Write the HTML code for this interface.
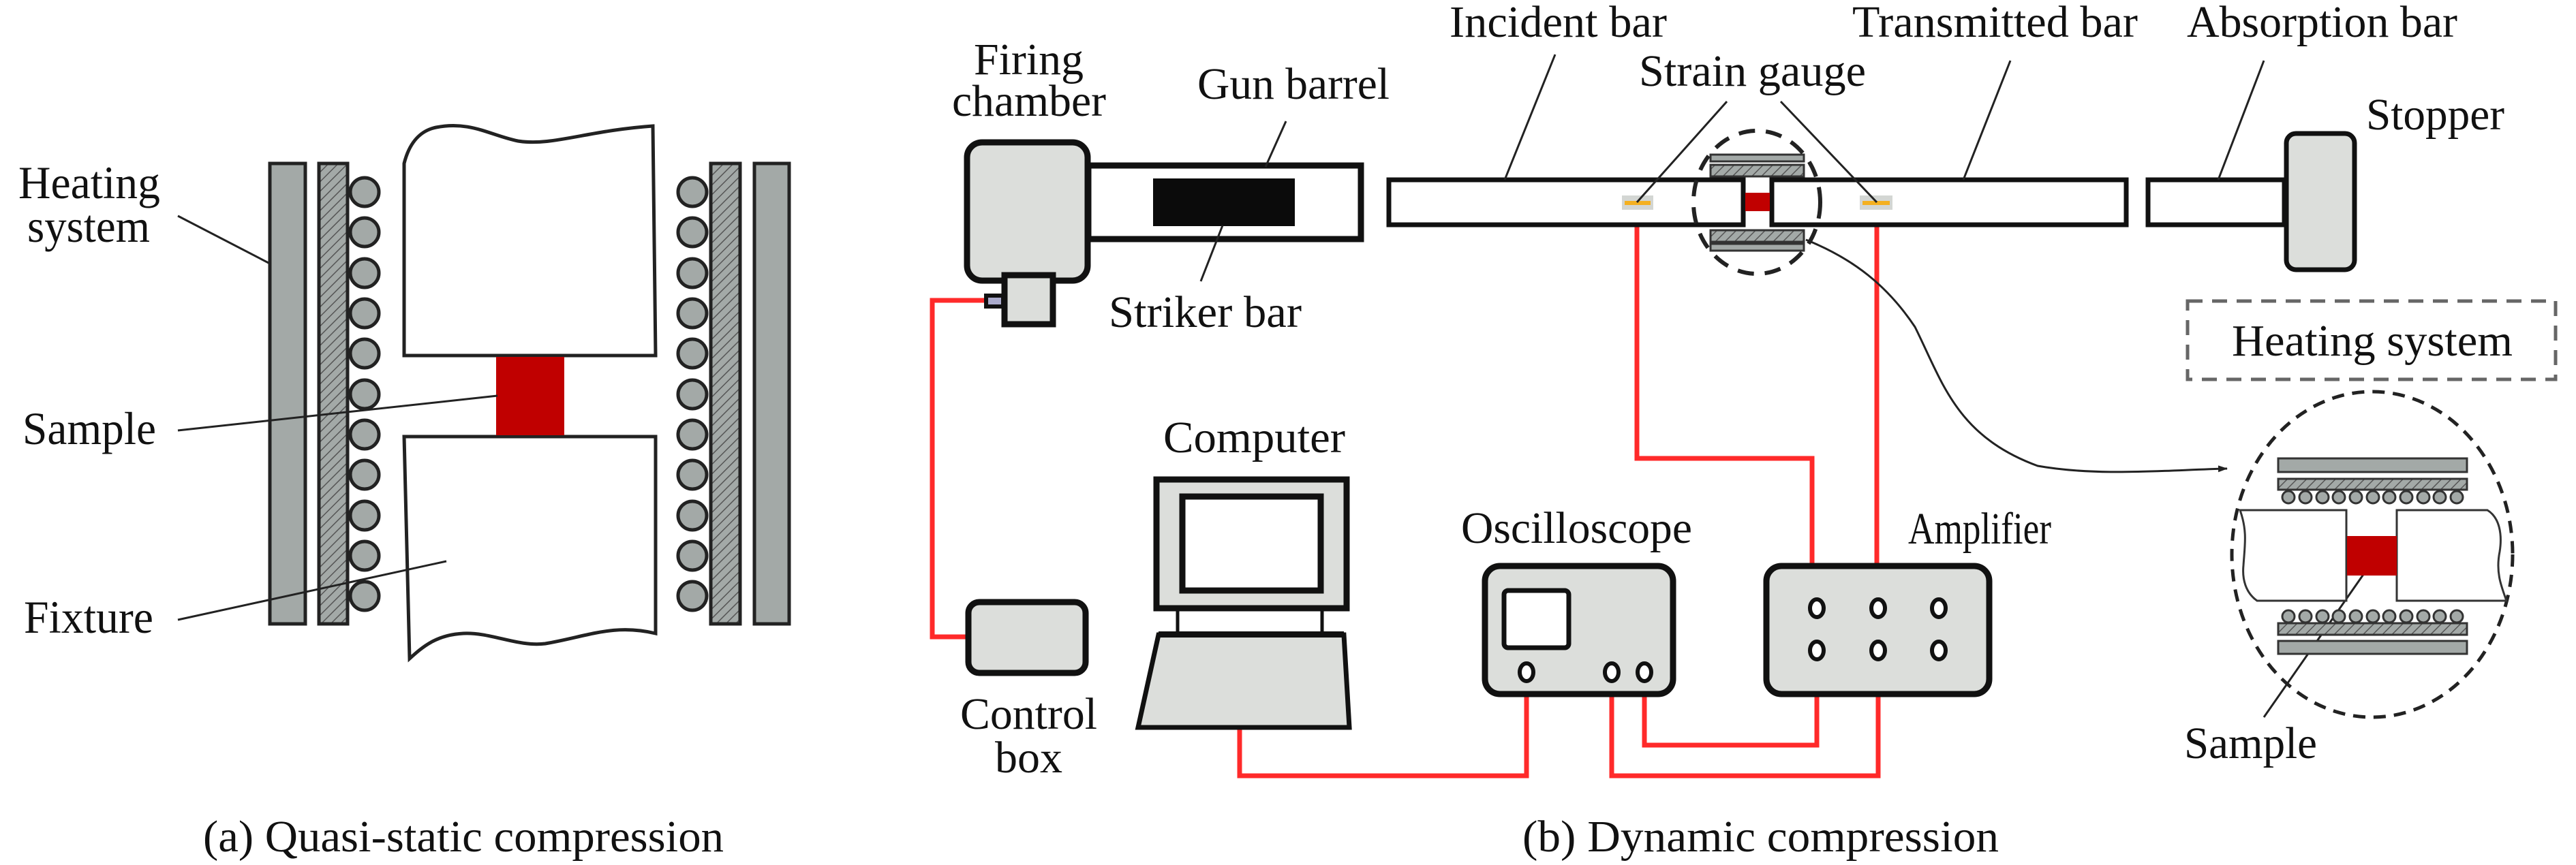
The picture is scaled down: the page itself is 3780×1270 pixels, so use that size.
<!DOCTYPE html>
<html><head><meta charset="utf-8"><style>
html,body{margin:0;padding:0;background:#fff;}
svg{display:block;}
svg text{font-family:"Liberation Serif","DejaVu Serif",serif;fill:#111;}
</style></head><body>
<svg width="3780" height="1270" viewBox="0 0 3780 1270" xmlns="http://www.w3.org/2000/svg" font-family="Liberation Serif, DejaVu Serif, serif">
<defs>
<pattern id="h" width="10" height="10" patternUnits="userSpaceOnUse" patternTransform="rotate(45)">
<rect width="10" height="10" fill="#a3a9a7"/><line x1="0" y1="0" x2="0" y2="10" stroke="#555" stroke-width="3"/>
</pattern>
<marker id="ar" markerWidth="14" markerHeight="10" refX="13" refY="5" orient="auto" markerUnits="userSpaceOnUse" viewBox="0 0 14 10">
<path d="M0,0 L14,5 L0,10 z" fill="#222"/></marker>
</defs>

<!-- LEFT PANEL -->
<g stroke="#222" stroke-width="5">
<rect x="396" y="240" width="52" height="676" fill="#a3a9a7"/>
<rect x="468" y="240" width="42" height="676" fill="url(#h)"/>
<rect x="1043" y="240" width="43" height="676" fill="url(#h)"/>
<rect x="1107" y="240" width="51" height="676" fill="#a3a9a7"/>
<g fill="#a3a9a7">
<circle cx="535" cy="282" r="21"/><circle cx="535" cy="341" r="21"/><circle cx="535" cy="401" r="21"/><circle cx="535" cy="460" r="21"/><circle cx="535" cy="519" r="21"/><circle cx="535" cy="579" r="21"/><circle cx="535" cy="638" r="21"/><circle cx="535" cy="697" r="21"/><circle cx="535" cy="757" r="21"/><circle cx="535" cy="816" r="21"/><circle cx="535" cy="875" r="21"/>
<circle cx="1016" cy="282" r="21"/><circle cx="1016" cy="341" r="21"/><circle cx="1016" cy="401" r="21"/><circle cx="1016" cy="460" r="21"/><circle cx="1016" cy="519" r="21"/><circle cx="1016" cy="579" r="21"/><circle cx="1016" cy="638" r="21"/><circle cx="1016" cy="697" r="21"/><circle cx="1016" cy="757" r="21"/><circle cx="1016" cy="816" r="21"/><circle cx="1016" cy="875" r="21"/>
</g>
<path d="M593,240 C600,212 615,192 640,187 C690,177 720,199 760,207 C810,215 860,192 958,185 L962,522 L593,522 Z" fill="#fff"/>
<path d="M593,641 L962,641 L962,930 C900,915 860,935 800,945 C760,950 720,928 680,930 C640,932 620,950 601,967 Z" fill="#fff"/>
</g>
<rect x="728" y="524" width="100" height="115" fill="#c00000"/>
<g stroke="#222" stroke-width="3">
<line x1="261" y1="317" x2="396" y2="387"/>
<line x1="261" y1="632" x2="730" y2="581"/>
<line x1="261" y1="910" x2="655" y2="824"/>
</g>
<g font-size="68">
<text x="27" y="291" textLength="208" lengthAdjust="spacingAndGlyphs">Heating</text>
<text x="40" y="355" textLength="180" lengthAdjust="spacingAndGlyphs">system</text>
<text x="33" y="652" textLength="196" lengthAdjust="spacingAndGlyphs">Sample</text>
<text x="35" y="929" textLength="190" lengthAdjust="spacingAndGlyphs">Fixture</text>
</g>
<text x="298" y="1250" font-size="66" textLength="764" lengthAdjust="spacingAndGlyphs">(a) Quasi-static compression</text>

<!-- RIGHT PANEL: red wires -->
<g stroke="#ff2a2a" stroke-width="7" fill="none">
<polyline points="1450,441 1368,441 1368,935 1419,935"/>
<polyline points="1819,1070 1819,1139 2240,1139 2240,987"/>
<polyline points="2402,297 2402,673 2659,673 2659,829"/>
<polyline points="2754,297 2754,829"/>
<polyline points="2413,987 2413,1094 2666,1094 2666,955"/>
<polyline points="2365,987 2365,1139 2756,1139 2756,955"/>
</g>

<!-- firing chamber -->
<g stroke="#111" stroke-width="9">
<rect x="1419" y="209" width="177" height="203" rx="22" fill="#dcdedb"/>
<rect x="1474" y="404" width="71" height="72" fill="#dcdedb"/>
<rect x="1447" y="434" width="25" height="16" fill="#aac" stroke-width="6"/>
<rect x="1597" y="243" width="400" height="108" fill="#fff"/>
</g>
<rect x="1692" y="262" width="208" height="70" fill="#0b0b0b"/>
<!-- bars -->
<g stroke="#111" stroke-width="7" fill="#fff">
<rect x="2038" y="264" width="520" height="66"/>
<rect x="2600" y="264" width="520" height="66"/>
<rect x="3152" y="264" width="200" height="66"/>
<rect x="3355" y="196" width="100" height="200" rx="14" fill="#dcdedb"/>
</g>
<rect x="2561" y="283" width="36" height="27" fill="#c00000"/>
<!-- gauges -->
<rect x="2380" y="287" width="46" height="21" fill="#d3d6d3"/>
<rect x="2384" y="295" width="38" height="6" fill="#f4b020"/>
<rect x="2729" y="287" width="48" height="21" fill="#d3d6d3"/>
<rect x="2733" y="295" width="40" height="6" fill="#f4b020"/>
<!-- small coils near sample -->
<g stroke="#333" stroke-width="3">
<rect x="2510" y="227" width="137" height="10" fill="#a3a9a7"/>
<rect x="2510" y="242" width="137" height="17" fill="url(#h)"/>
<rect x="2510" y="338" width="137" height="17" fill="url(#h)"/>
<rect x="2510" y="358" width="137" height="10" fill="#a3a9a7"/>
</g>
<ellipse cx="2578" cy="297" rx="93" ry="105" fill="none" stroke="#222" stroke-width="6" stroke-dasharray="24,16"/>
<!-- leaders -->
<g stroke="#222" stroke-width="3" fill="none">
<line x1="1887" y1="178" x2="1857" y2="245"/>
<line x1="1794" y1="331" x2="1762" y2="413"/>
<line x1="2282" y1="80" x2="2208" y2="264"/>
<line x1="2534" y1="149" x2="2402" y2="297"/>
<line x1="2613" y1="149" x2="2754" y2="297"/>
<line x1="2950" y1="89" x2="2881" y2="264"/>
<line x1="3322" y1="89" x2="3255" y2="264"/>
<path d="M2650,352 C2720,380 2770,420 2810,480 C2850,560 2870,640 2990,684 C3080,700 3180,690 3268,688" marker-end="url(#ar)"/>
<line x1="3322" y1="1053" x2="3469" y2="842"/>
</g>
<!-- heating system box -->
<rect x="3210" y="442" width="540" height="115" fill="none" stroke="#666" stroke-width="5" stroke-dasharray="22,14"/>
<!-- zoom circle -->
<ellipse cx="3481" cy="814" rx="206" ry="239" fill="none" stroke="#222" stroke-width="5" stroke-dasharray="18,12"/>
<g stroke="#333" stroke-width="3">
<rect x="3343" y="673" width="277" height="20" fill="#a3a9a7"/>
<rect x="3343" y="703" width="277" height="16" fill="url(#h)"/>
<rect x="3343" y="915" width="277" height="17" fill="url(#h)"/>
<rect x="3343" y="941" width="277" height="19" fill="#a3a9a7"/>
<g fill="#a3a9a7">
<circle cx="3358" cy="730" r="9"/><circle cx="3383" cy="730" r="9"/><circle cx="3408" cy="730" r="9"/><circle cx="3432" cy="730" r="9"/><circle cx="3457" cy="730" r="9"/><circle cx="3482" cy="730" r="9"/><circle cx="3506" cy="730" r="9"/><circle cx="3531" cy="730" r="9"/><circle cx="3556" cy="730" r="9"/><circle cx="3580" cy="730" r="9"/><circle cx="3605" cy="730" r="9"/>
<circle cx="3358" cy="905" r="9"/><circle cx="3383" cy="905" r="9"/><circle cx="3408" cy="905" r="9"/><circle cx="3432" cy="905" r="9"/><circle cx="3457" cy="905" r="9"/><circle cx="3482" cy="905" r="9"/><circle cx="3506" cy="905" r="9"/><circle cx="3531" cy="905" r="9"/><circle cx="3556" cy="905" r="9"/><circle cx="3580" cy="905" r="9"/><circle cx="3605" cy="905" r="9"/>
</g>
<path d="M3287,749 L3443,749 L3443,882 L3312,882 C3295,870 3290,850 3292,830 C3294,800 3298,780 3287,749 Z" fill="#fff"/>
<path d="M3517,749 L3650,749 C3668,760 3672,785 3668,810 C3662,840 3670,860 3678,882 L3517,882 Z" fill="#fff"/>
</g>
<rect x="3444" y="787" width="73" height="58" fill="#c00000"/>

<!-- devices -->
<g stroke="#111" stroke-width="9">
<rect x="1421" y="884" width="172" height="104" rx="16" fill="#dcdedb"/>
<rect x="1697" y="704" width="279" height="189" fill="#dcdedb"/>
<rect x="1735" y="729" width="203" height="138" fill="#fff"/>
<path d="M1700,932 L1972,932 L1980,1068 L1670,1068 Z" fill="#dcdedb" stroke-width="7"/>
<rect x="2179" y="831" width="276" height="188" rx="22" fill="#dcdedb"/>
<rect x="2207" y="867" width="95" height="84" rx="6" fill="#fff" stroke-width="7"/>
<rect x="2592" y="831" width="327" height="188" rx="22" fill="#dcdedb"/>
</g>
<g stroke="#111" stroke-width="5">
<line x1="1728" y1="895" x2="1728" y2="930"/><line x1="1940" y1="895" x2="1940" y2="930"/>
</g>
<rect x="1700" y="927" width="272" height="9" fill="#111"/>
<g fill="#fff" stroke="#111" stroke-width="6">
<ellipse cx="2240" cy="987" rx="10" ry="13"/><ellipse cx="2365" cy="987" rx="10" ry="13"/><ellipse cx="2413" cy="987" rx="10" ry="13"/>
<ellipse cx="2666" cy="893" rx="10" ry="13"/><ellipse cx="2756" cy="893" rx="10" ry="13"/><ellipse cx="2845" cy="893" rx="10" ry="13"/>
<ellipse cx="2666" cy="955" rx="10" ry="13"/><ellipse cx="2756" cy="955" rx="10" ry="13"/><ellipse cx="2845" cy="955" rx="10" ry="13"/>
</g>

<!-- labels right -->
<g font-size="66">
<text x="1429" y="109" textLength="161" lengthAdjust="spacingAndGlyphs">Firing</text>
<text x="1397" y="170" textLength="226" lengthAdjust="spacingAndGlyphs">chamber</text>
<text x="1757" y="145" textLength="282" lengthAdjust="spacingAndGlyphs">Gun barrel</text>
<text x="1627" y="480" textLength="283" lengthAdjust="spacingAndGlyphs">Striker bar</text>
<text x="2127" y="54" textLength="319" lengthAdjust="spacingAndGlyphs">Incident bar</text>
<text x="2405" y="126" textLength="333" lengthAdjust="spacingAndGlyphs">Strain gauge</text>
<text x="2718" y="54" textLength="419" lengthAdjust="spacingAndGlyphs">Transmitted bar</text>
<text x="3209" y="54" textLength="397" lengthAdjust="spacingAndGlyphs">Absorption bar</text>
<text x="3472" y="190" textLength="203" lengthAdjust="spacingAndGlyphs">Stopper</text>
<text x="3275" y="522" textLength="412" lengthAdjust="spacingAndGlyphs">Heating system</text>
<text x="3205" y="1113" textLength="195" lengthAdjust="spacingAndGlyphs">Sample</text>
<text x="1707" y="664" textLength="267" lengthAdjust="spacingAndGlyphs">Computer</text>
<text x="2144" y="797" textLength="339" lengthAdjust="spacingAndGlyphs">Oscilloscope</text>
<text x="2800" y="798" textLength="210" lengthAdjust="spacingAndGlyphs">Amplifier</text>
<text x="1409" y="1070" textLength="201" lengthAdjust="spacingAndGlyphs">Control</text>
<text x="1460" y="1134" textLength="99" lengthAdjust="spacingAndGlyphs">box</text>
</g>
<text x="2234" y="1250" font-size="66" textLength="699" lengthAdjust="spacingAndGlyphs">(b) Dynamic compression</text>
</svg>
</body></html>
